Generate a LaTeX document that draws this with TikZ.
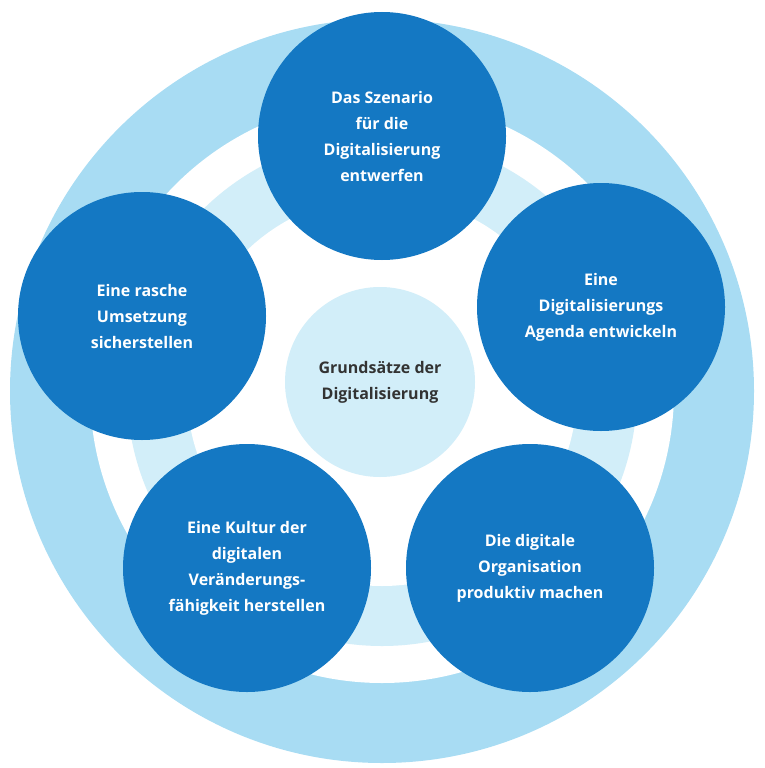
\documentclass[tikz,border=0pt]{standalone}
\usepackage{fontspec}
\setmainfont{Open Sans}
\definecolor{ringlight}{HTML}{A8DCF3}
\definecolor{ringpale}{HTML}{D2EEF9}
\definecolor{stepblue}{HTML}{1478C3}
\definecolor{coretext}{HTML}{333333}
\tikzset{
  phase/.style={circle, fill=stepblue, minimum size=248pt, inner sep=0pt,
    text=white, align=center, font=\fontsize{16}{26}\selectfont\bfseries},
  core/.style={circle, fill=ringpale, minimum size=190pt, inner sep=0pt,
    text=coretext, align=center, font=\fontsize{16}{26}\selectfont\bfseries}
}
\begin{document}
\begin{tikzpicture}[x=1pt,y=-1pt]
\useasboundingbox (0,0) rectangle (764,768);
% rings
\fill [ringlight] (382,391) circle (372);
\fill [white] (382,391) circle (292);
\fill [ringpale] (382,391) circle (255);
\fill [white] (382,391) circle (195);
\node [core] (core) at (380,382) {Grundsätze der\\Digitalisierung};
% phases
\node [phase] (szenario) at (382,136) {Das Szenario\\für die\\Digitalisierung\\entwerfen};
\node [phase] (agenda) at (601,307) {Eine\\Digitalisierungs\\Agenda entwickeln};
\node [phase] (organisation) at (530,568) {Die digitale\\Organisation\\produktiv machen};
\node [phase] (kultur) at (247,568) {Eine Kultur der\\digitalen\\Veränderungs-\\fähigkeit herstellen};
\node [phase] (umsetzung) at (142,316) {Eine rasche\\Umsetzung\\sicherstellen};
\end{tikzpicture}
\end{document}
